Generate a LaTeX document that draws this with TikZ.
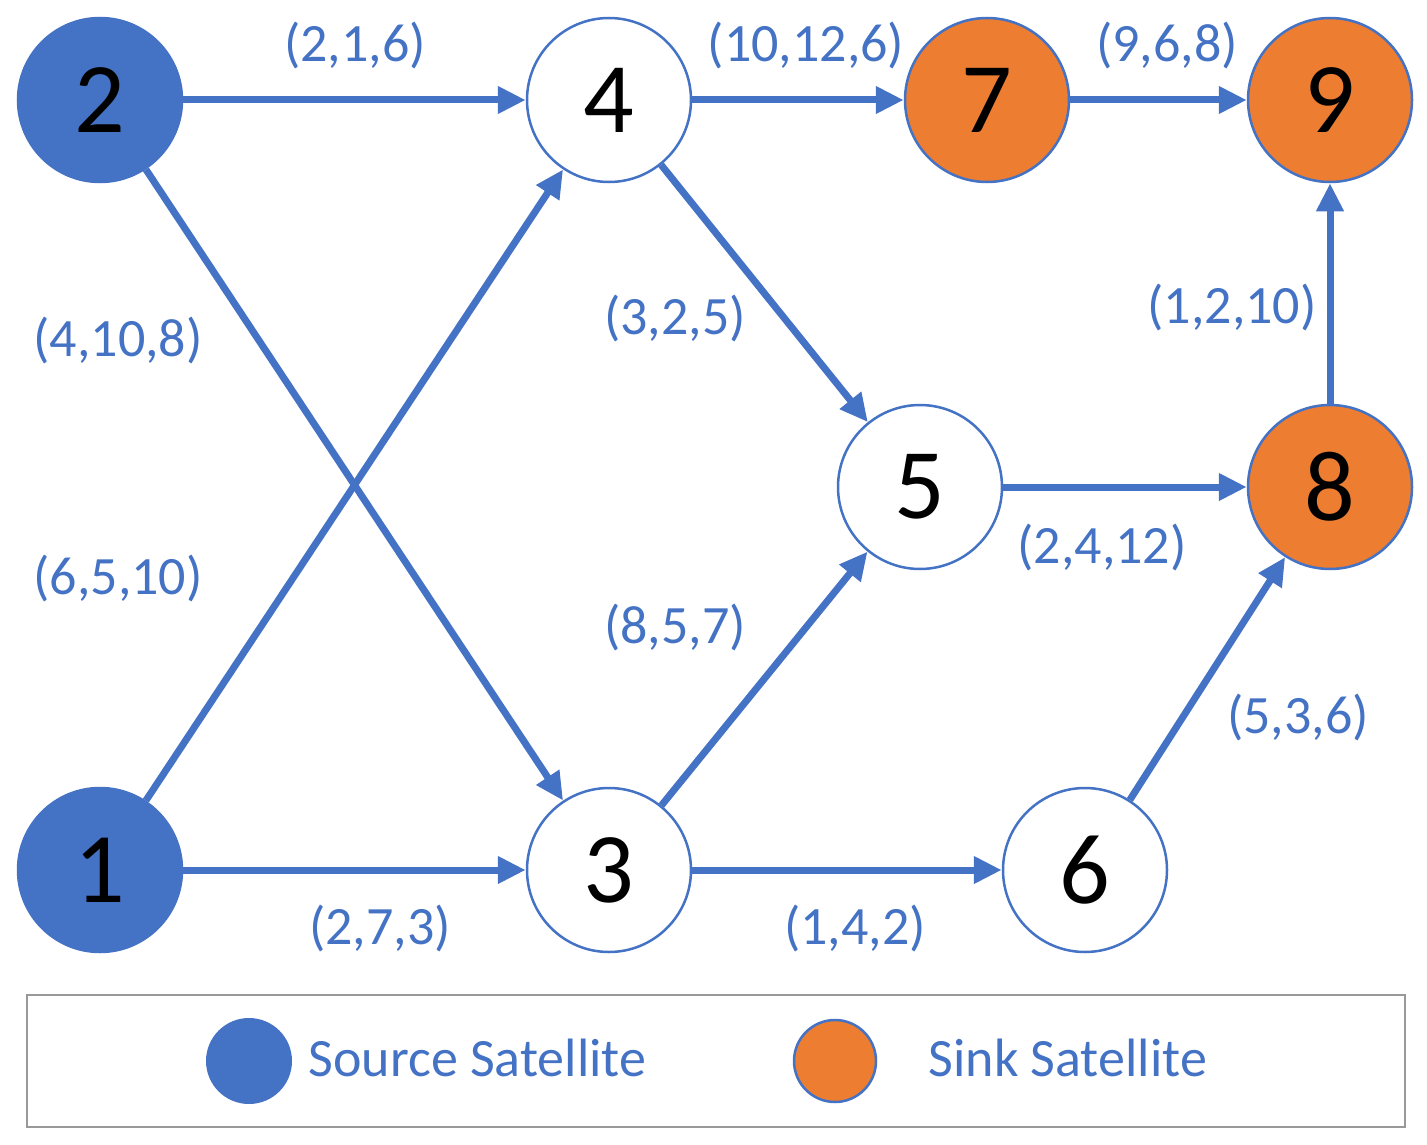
\documentclass[tikz,border=0pt]{standalone}
\usepackage{fontspec}
\setmainfont{Carlito}
\usetikzlibrary{arrows.meta}
\definecolor{myblue}{HTML}{4472C4}
\definecolor{myorange}{HTML}{ED7D31}
\begin{document}
\begin{tikzpicture}[x=1pt,y=-1pt,
  sat/.style={circle,draw=myblue,line width=2.5pt,minimum size=164pt,inner sep=0pt,font=\fontsize{100}{100}\selectfont},
  src/.style={sat,fill=myblue},
  snk/.style={sat,fill=myorange},
  wht/.style={sat,fill=white},
  edge/.style={draw=myblue,line width=7pt,-{Triangle[length=28pt,width=26pt]}},
  lab/.style={text=myblue,font=\fontsize{54}{60}\selectfont}]
\useasboundingbox (0,0) rectangle (1427,1145);
\node[src] (n2) at (100,100) {2};
\node[wht] (n4) at (609,100) {4};
\node[snk] (n7) at (987,100) {7};
\node[snk] (n9) at (1330,100) {9};
\node[wht] (n5) at (920,487) {5};
\node[snk] (n8) at (1330,487) {8};
\node[src] (n1) at (100,870) {1};
\node[wht] (n3) at (609,870) {3};
\node[wht] (n6) at (1085,870) {6};
\draw[edge] (n2) -- (n4);
\draw[edge] (n4) -- (n7);
\draw[edge] (n7) -- (n9);
\draw[edge] (n2) -- (n3);
\draw[edge] (n1) -- (n4);
\draw[edge] (n4) -- (n5);
\draw[edge] (n3) -- (n5);
\draw[edge] (n5) -- (n8);
\draw[edge] (n8) -- (n9);
\draw[edge] (n1) -- (n3);
\draw[edge] (n3) -- (n6);
\draw[edge] (n6) -- (n8);
\node[lab] (l1) at (355,45) {(2,1,6)};
\node[lab] (l2) at (806,45) {(10,12,6)};
\node[lab] (l3) at (1167,45) {(9,6,8)};
\node[lab] (l4) at (118,340) {(4,10,8)};
\node[lab] (l5) at (675,318) {(3,2,5)};
\node[lab] (l6) at (1232,307) {(1,2,10)};
\node[lab] (l7) at (118,578) {(6,5,10)};
\node[lab] (l8) at (1102,547) {(2,4,12)};
\node[lab] (l9) at (675,627) {(8,5,7)};
\node[lab] (l10) at (1298,717) {(5,3,6)};
\node[lab] (l11) at (380,928) {(2,7,3)};
\node[lab] (l12) at (855,928) {(1,4,2)};
\node[draw=gray!80,line width=2.5pt,minimum width=1378pt,minimum height=132pt] (box) at (716,1061) {};
\node[circle,fill=myblue,minimum size=86pt,inner sep=0pt] (ls) at (249,1061) {};
\node[circle,fill=myorange,draw=myblue,line width=2.5pt,minimum size=82pt,inner sep=0pt] (lk) at (835,1061) {};
\node[lab,anchor=west] (ts) at (305,1058) {Source Satellite};
\node[lab,anchor=west] (tk) at (925,1058) {Sink Satellite};
\end{tikzpicture}
\end{document}
